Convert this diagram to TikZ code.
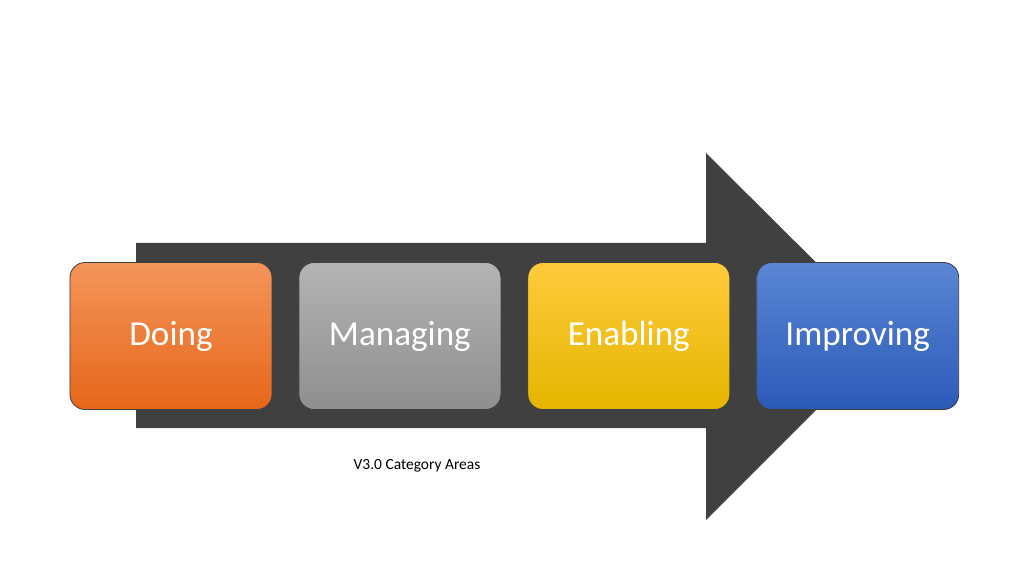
\documentclass[tikz,border=0pt]{standalone}
\usepackage{fontspec}
\setmainfont{Carlito}
\usetikzlibrary{positioning}
\definecolor{doingtop}{HTML}{F4955A}
\definecolor{doingbot}{HTML}{E6661A}
\definecolor{managtop}{HTML}{B4B4B4}
\definecolor{managbot}{HTML}{8E8E8E}
\definecolor{enabltop}{HTML}{FFCB3C}
\definecolor{enablbot}{HTML}{E5B500}
\definecolor{improtop}{HTML}{5A86D4}
\definecolor{improbot}{HTML}{2C5AB8}
\definecolor{arrowgray}{HTML}{404040}
\tikzset{
  area/.style={draw=black!75, line width=0.6pt, rounded corners=0.38cm,
    minimum width=5.05cm, minimum height=3.675cm, inner sep=0pt,
    text=white, font=\fontsize{25}{30}\selectfont},
  caption/.style={font=\fontsize{11}{13}\selectfont, text=black}
}
\begin{document}
\begin{tikzpicture}[x=0.025cm, y=-0.025cm]
    \useasboundingbox (0,0) rectangle (1024,576);

    % big arrow behind the boxes
    \fill [arrowgray] (136,243) -- (706,243) -- (706,153) -- (890,336)
                  -- (706,520) -- (706,428) -- (136,428) -- cycle;

    % category boxes
    \node [area, top color=doingtop, bottom color=doingbot] (doing) at (171,336) {Doing};
    \node [area, top color=managtop, bottom color=managbot, right=0.65cm of doing] (managing) {Managing};
    \node [area, top color=enabltop, bottom color=enablbot, right=0.65cm of managing] (enabling) {Enabling};
    \node [area, top color=improtop, bottom color=improbot, right=0.65cm of enabling] (improving) {Improving};

    % caption
    \node [caption] (areas) at (417,466) {V3.0 Category Areas};
\end{tikzpicture}
\end{document}
